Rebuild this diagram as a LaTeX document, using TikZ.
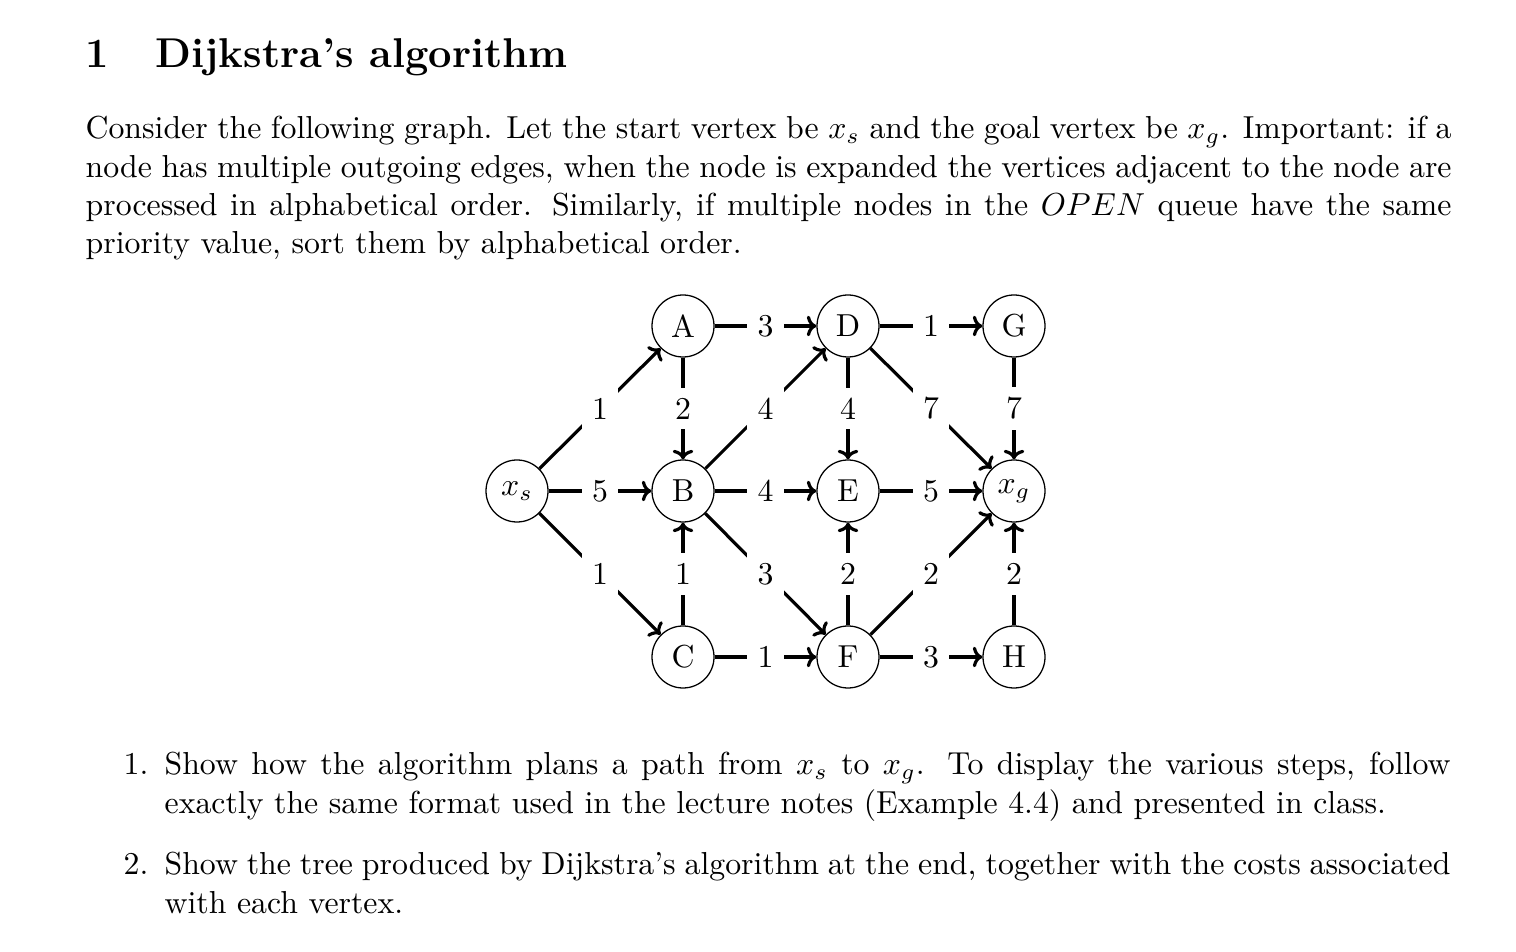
\documentclass[tikz,border=0pt]{standalone}
\usetikzlibrary{arrows.meta}
\begin{document}
\begin{tikzpicture}[x=0.3145pt,y=-0.3145pt,
  vtx/.style={draw,circle,minimum size=19.5pt,inner sep=0pt,font=\normalsize},
  edge/.style={line width=1pt,-{To[length=3pt,width=6.5pt]}},
  lbl/.style={fill=white,inner sep=3.2pt,font=\normalsize},
  txt/.style={inner sep=0pt,anchor=base west,align=justify}]
\useasboundingbox (0,0) rectangle (1516,952);
\node[txt] (t1) at (85,68) {\fontsize{13.1}{16}\selectfont\bfseries 1};
\node[txt] (t2) at (155,68) {\fontsize{13.1}{16}\selectfont\bfseries Dijkstra's algorithm};
\node[txt,text width=429.6pt] (p) at (85,139) {Consider the following graph. Let the start vertex be $x_s$ and the goal vertex be $x_g$. Important: if a\linebreak node has multiple outgoing edges, when the node is expanded the vertices adjacent to the node are\linebreak processed in alphabetical order. Similarly, if multiple nodes in the $OPEN$ queue have the same\linebreak priority value, sort them by alphabetical order.};
\node[vtx] (xs) at (517,491) {$x_s$};
\node[vtx] (A) at (683,326) {A};
\node[vtx] (B) at (683,491) {B};
\node[vtx] (C) at (683,657) {C};
\node[vtx] (D) at (848,326) {D};
\node[vtx] (E) at (848,491) {E};
\node[vtx] (F) at (848,657) {F};
\node[vtx] (G) at (1014,326) {G};
\node[vtx] (xg) at (1014,491) {$x_g$};
\node[vtx] (H) at (1014,657) {H};
\foreach \a/\b/\w in {xs/A/1,xs/B/5,xs/C/1,A/D/3,A/B/2,D/G/1,D/E/4,D/xg/7,B/D/4,B/E/4,B/F/3,C/B/1,C/F/1,E/xg/5,F/E/2,F/xg/2,F/H/3,G/xg/7,H/xg/2}
  \draw[edge] (\a) -- node[lbl] {\w} (\b);
\node[txt] (n1) at (123,775) {1.};
\node[txt,text width=404.4pt] (i1) at (164,775) {Show how the algorithm plans a path from $x_s$ to $x_g$. To display the various steps, follow\linebreak exactly the same format used in the lecture notes (Example 4.4) and presented in class.};
\node[txt] (n2) at (123,875) {2.};
\node[txt,text width=404.4pt] (i2) at (164,875) {Show the tree produced by Dijkstra's algorithm at the end, together with the costs associated\linebreak with each vertex.};
\end{tikzpicture}
\end{document}
